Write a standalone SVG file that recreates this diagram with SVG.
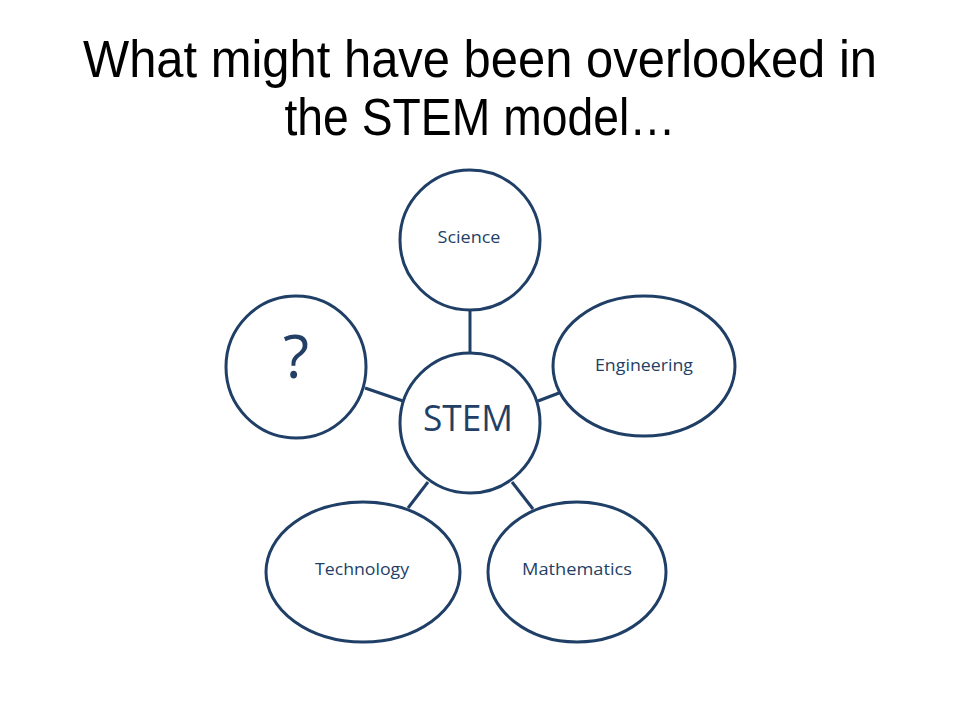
<svg xmlns="http://www.w3.org/2000/svg" width="960" height="720" viewBox="0 0 960 720">
<style>
.node{fill:#FFFFFF;stroke:#203F66;stroke-width:3}
.edge{stroke:#203F66;stroke-width:3;fill:none}
.lbl{font-family:"Open Sans","Liberation Sans",sans-serif;fill:#243F66;text-anchor:middle}
.title{font-family:"Liberation Sans",Arial,sans-serif;fill:#000000;text-anchor:middle;font-size:51px}
</style>
<rect width="960" height="720" fill="#FFFFFF"/>
<g id="title">
<text class="title" x="480" y="77" textLength="794" lengthAdjust="spacingAndGlyphs">What might have been overlooked in</text>
<text class="title" x="480" y="135" textLength="391" lengthAdjust="spacingAndGlyphs">the STEM model…</text>
</g>
<g id="connectors">
<line class="edge" x1="470" y1="310" x2="470" y2="353"/>
<line class="edge" x1="365" y1="388" x2="403" y2="401"/>
<line class="edge" x1="538" y1="401" x2="559" y2="393"/>
<line class="edge" x1="428" y1="482" x2="408" y2="508"/>
<line class="edge" x1="512" y1="482" x2="533" y2="509"/>
</g>
<g id="science">
<ellipse class="node" cx="470" cy="240" rx="70" ry="70"/>
<text class="lbl" x="469" y="243" font-size="17" textLength="63" lengthAdjust="spacingAndGlyphs">Science</text>
</g>
<g id="unknown">
<ellipse class="node" cx="296" cy="367" rx="70" ry="71"/>
<text class="lbl" x="296" y="378" font-size="60" textLength="26" lengthAdjust="spacingAndGlyphs">?</text>
</g>
<g id="stem">
<ellipse class="node" cx="470" cy="423" rx="70" ry="70"/>
<text class="lbl" x="468" y="431" font-size="36" textLength="90" lengthAdjust="spacingAndGlyphs">STEM</text>
</g>
<g id="engineering">
<ellipse class="node" cx="644" cy="366" rx="91" ry="70"/>
<text class="lbl" x="644" y="371" font-size="17" textLength="98" lengthAdjust="spacingAndGlyphs">Engineering</text>
</g>
<g id="technology">
<ellipse class="node" cx="363" cy="572" rx="97" ry="70"/>
<text class="lbl" x="362" y="575" font-size="17" textLength="94" lengthAdjust="spacingAndGlyphs">Technology</text>
</g>
<g id="mathematics">
<ellipse class="node" cx="577" cy="572" rx="89" ry="70"/>
<text class="lbl" x="577" y="575" font-size="17" textLength="110" lengthAdjust="spacingAndGlyphs">Mathematics</text>
</g>
</svg>
